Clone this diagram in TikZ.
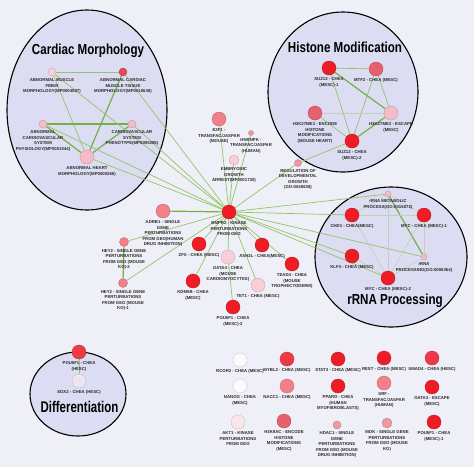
\documentclass[tikz,border=0pt]{standalone}
\usepackage{fontspec}
\setmainfont{Liberation Sans}
\pgfdeclarelayer{bg}\pgfdeclarelayer{edges}\pgfsetlayers{bg,edges,main}
\definecolor{bgc}{HTML}{EFF0F7}
\definecolor{grpfill}{HTML}{DCDDF2}
\definecolor{txtc}{HTML}{2A2A2A}
\definecolor{eg}{HTML}{92C468}
\definecolor{egt}{HTML}{74B043}
\definecolor{egf}{HTML}{C4CFB8}
\definecolor{cRed}{HTML}{EE1C24}
\definecolor{cRedB}{HTML}{E4485A}
\definecolor{cRose}{HTML}{E8606E}
\definecolor{cSalmon}{HTML}{F18089}
\definecolor{cSalmonL}{HTML}{EF98A4}
\definecolor{cPink}{HTML}{F3BCC8}
\definecolor{cLight}{HTML}{F6D0D6}
\definecolor{cRedC}{HTML}{EE3A44}
\definecolor{cWhite}{HTML}{FBFAFC}
\definecolor{cWhiteB}{HTML}{EEE6EE}
\definecolor{cWhiteC}{HTML}{F8E6EA}
\tikzset{
 gn/.style={circle, inner sep=0pt, line width=0.4pt},
 lbl/.style={anchor=north, align=center, inner sep=0pt, font=\fontsize{4.3}{5.4}\selectfont\bfseries, text=txtc},
 ttl/.style={inner sep=0pt, font=\fontsize{14.5}{16}\selectfont\bfseries, text=black},
 e/.style={draw=eg, line width=0.7pt},
 et/.style={draw=egt, line width=1.2pt},
 ef/.style={draw=egf, line width=0.6pt},
 grp/.style={draw=black, line width=1.1pt, fill=grpfill},
}
\newcommand\gn[6]{\node[gn, minimum size=#4pt, fill=#5, draw=#5!82!black] (#1) at (#2,#3) {};
 \node[lbl] (#1-t) at ([yshift=-2.4pt]#1.south) {#6};}
\begin{document}
\begin{tikzpicture}[x=1pt,y=-1pt]
\begin{pgfonlayer}{bg}
\fill[bgc] (0,0) rectangle (474,467);
\path[grp] (87,110) ellipse [x radius=80, y radius=100];
\path[grp] (343,92) ellipse [x radius=75, y radius=80];
\path[grp] (391,257) ellipse [x radius=76, y radius=70];
\path[grp] (78,394) ellipse [x radius=48, y radius=42];
\end{pgfonlayer}
\useasboundingbox (0,0) rectangle (474,467);
% titles
\node[ttl] (tcard) at (88,50.5) {\scalebox{0.8}[1]{Cardiac Morphology}};
\node[ttl] (thist) at (345,47) {\scalebox{0.8}[1]{Histone Modification}};
\node[ttl] (trrna) at (395,301) {\scalebox{0.8}[1]{rRNA Processing}};
\node[ttl, font=\fontsize{15.5}{17}\selectfont\bfseries] (tdiff) at (79.5,406.5) {\scalebox{0.74}[1]{Differentiation}};
% cardiac
\gn{amf}{52}{72}{8}{cLight}{ABNORMAL MUSCLE\\FIBER\\MORPHOLOGY(MP0004087)}
\gn{acm}{123}{72}{8}{cRedB}{ABNORMAL CARDIAC\\MUSCLE TISSUE\\MORPHOLOGY(MP0010630)}
\gn{acp}{43}{124}{8}{cPink}{ABNORMAL\\CARDIOVASCULAR\\SYSTEM\\PHYSIOLOGY(MP0001544)}
\gn{csp}{132}{124}{8}{cPink}{CARDIOVASCULAR\\SYSTEM\\PHENOTYPE(MP0005385)}
\gn{ahm}{87}{157}{14}{cPink}{ABNORMAL HEART\\MORPHOLOGY(MP0000266)}
% histone
\gn{suza}{329}{68}{14}{cRed}{SUZ12 - CHEA\\(MESC)-1}
\gn{mtf}{376}{69}{14}{cRose}{MTF2 - CHEA (MESC)}
\gn{henc}{315}{113}{14}{cRose}{H3K27ME3 - ENCODE\\HISTONE\\MODIFICATIONS\\(MOUSE HEART)}
\gn{hesc}{391}{113}{14}{cPink}{H3K27ME3 - ESCAPE\\(MESC)}
\gn{suzb}{352}{141}{14}{cRed}{SUZ12 - CHEA\\(MESC)-2}
% central
\gn{hub}{229}{212}{14}{cRed}{BMPR2 - KINASE\\PERTURBATIONS\\FROM GEO}
\gn{efa}{219}{119}{14}{cSalmon}{E2F1 -\\TRANSFAC/JASPAR\\(MOUSE)}
\gn{hnr}{251}{133}{5}{cSalmonL}{HNRNPK -\\TRANSFAC/JASPAR\\(HUMAN)}
\gn{emb}{234}{160}{10}{cLight}{EMBRYONIC\\GROWTH\\ARREST(MP0001730)}
\gn{reg}{298}{163}{7}{cSalmonL}{REGULATION OF\\DEVELOPMENTAL\\GROWTH\\(GO:0048638)}
\gn{adr}{163}{211}{14}{cSalmon}{ADRB1 - SINGLE\\GENE\\PERTURBATIONS\\FROM GEO(HUMAN\\DRUG INHIBITION)}
\gn{heyb}{124}{242}{9}{cSalmon}{HEY2 - SINGLE GENE\\PERTURBATIONS\\FROM GEO (MOUSE\\KO)-2}
\gn{heya}{123}{283}{9}{cSalmon}{HEY2 - SINGLE GENE\\PERTURBATIONS\\FROM GEO (MOUSE\\KO)-1}
\gn{zfx}{199}{244}{14}{cRed}{ZFX - CHEA (MESC)}
\gn{kdm}{193}{281}{14}{cRed}{KDM5B - CHEA\\(MESC)}
\gn{gat}{228}{257}{14}{cLight}{GATA4 - CHEA\\(MOUSE\\CARDIOMYOCYTES)}
\gn{ash}{262}{245}{14}{cRed}{ASH2L - CHEA(MESC)}
\gn{tead}{292}{264}{14}{cRed}{TEAD4 - CHEA\\(MOUSE\\TROPHECTODERM)}
\gn{tet}{258}{285}{14}{cLight}{TET1 - CHEA (MESC)}
\gn{poub}{233}{307}{14}{cRed}{POU5F1 - CHEA\\(MESC)-2}
% rRNA
\gn{rmp}{388}{194}{6}{cPink}{rRNA METABOLIC\\PROCESS(GO:0016072)}
\gn{chd}{352}{215}{14}{cRed}{CHD1 - CHEA(MESC)}
\gn{myca}{424}{215}{14}{cRed}{MYC - CHEA (MESC)-1}
\gn{klf}{352}{256}{14}{cRed}{KLF4 - CHEA (MESC)}
\gn{rrp}{424}{257}{6}{cPink}{rRNA\\PROCESSING(GO:0006364)}
\gn{mycb}{388}{278}{14}{cRed}{MYC - CHEA (MESC)-2}
% differentiation
\gn{pouh}{79}{352}{14}{cRedC}{POU5F1 - CHEA\\(HESC)}
\gn{sox}{79}{381}{14}{cWhiteB}{SOX2 - CHEA (HESC)}
% bottom grid
\gn{rcor}{240}{360}{14}{cWhite}{RCOR2 - CHEA (MESC)}
\gn{mybl}{287}{359}{14}{cRedC}{MYBL2 - CHEA (MESC)}
\gn{stat}{338}{359}{14}{cRed}{STAT3 - CHEA (MESC)}
\gn{rest}{384}{358}{14}{cRed}{REST - CHEA (MESC)}
\gn{smad}{432}{358}{14}{cRedC}{SMAD4 - CHEA (HESC)}
\gn{nanog}{240}{386}{14}{cWhite}{NANOG - CHEA\\(MESC)}
\gn{nacc}{287}{386}{14}{cSalmon}{NACC1 - CHEA (MESC)}
\gn{ppard}{338}{386}{14}{cRed}{PPARD - CHEA\\(HUMAN\\MYOFIBROBLASTS)}
\gn{srf}{384}{383}{14}{cSalmon}{SRF -\\TRANSFAC/JASPAR\\(HUMAN)}
\gn{gatc}{432}{387}{14}{cRed}{GATA3 - ESCAPE\\(MESC)}
\gn{akt}{238}{422}{14}{cWhiteC}{AKT1 - KINASE\\PERTURBATIONS\\FROM GEO}
\gn{hnine}{284}{421}{14}{cRose}{H3K9AC - ENCODE\\HISTONE\\MODIFICATIONS\\(MESC)}
\gn{hdac}{337}{425}{8}{cSalmonL}{HDAC1 - SINGLE\\GENE\\PERTURBATIONS\\FROM GEO (MOUSE\\DRUG INHIBITION)}
\gn{mok}{387}{423}{10}{cSalmonL}{MOK - SINGLE GENE\\PERTURBATIONS\\FROM GEO (MOUSE\\KO)}
\gn{poua}{434}{422}{14}{cRed}{POU5F1 - CHEA\\(MESC)-1}
% edges
\begin{pgfonlayer}{edges}
\draw[e] (amf) -- (acm);
\draw[e] (amf) -- (ahm);
\draw[et] (acm) -- (ahm);
\draw[et] (acp) -- (csp);
\draw[et] (acp) -- (ahm);
\draw[et] (csp) -- (ahm);
\foreach \t in {amf,acm,acp,csp,ahm,efa,hnr,emb,reg,heyb,heya,zfx,kdm,gat,ash,tead,tet,rmp,chd,klf,rrp,mycb}
  \draw[e] (hub) -- (\t);
\draw[et] (hub) -- (adr);
\draw[et] (heyb) -- (heya);
\draw[e] (gat) -- (poub);
\draw[e] (suza) -- (mtf);
\draw[et] (suza) -- (hesc);
\draw[e] (suza) -- (suzb);
\draw[e] (mtf) -- (hesc);
\draw[e] (mtf) -- (suzb);
\draw[ef] (henc) -- (hesc);
\draw[e] (henc) -- (suzb);
\draw[et] (hesc) -- (suzb);
\draw[e] (suzb) -- (reg);
\draw[et] (rmp) -- (rrp);
\draw[ef] (rmp) -- (mycb);
\draw[ef] (rmp) -- (myca);
\draw[ef] (rmp) -- (chd);
\draw[ef] (chd) -- (myca);
\draw[ef] (chd) -- (mycb);
\draw[ef] (klf) -- (mycb);
\draw[ef] (myca) -- (mycb);
\draw[ef] (myca) -- (rrp);
\draw[ef] (rrp) -- (mycb);
\draw[e] (pouh) -- (sox);
\end{pgfonlayer}
\end{tikzpicture}
\end{document}
